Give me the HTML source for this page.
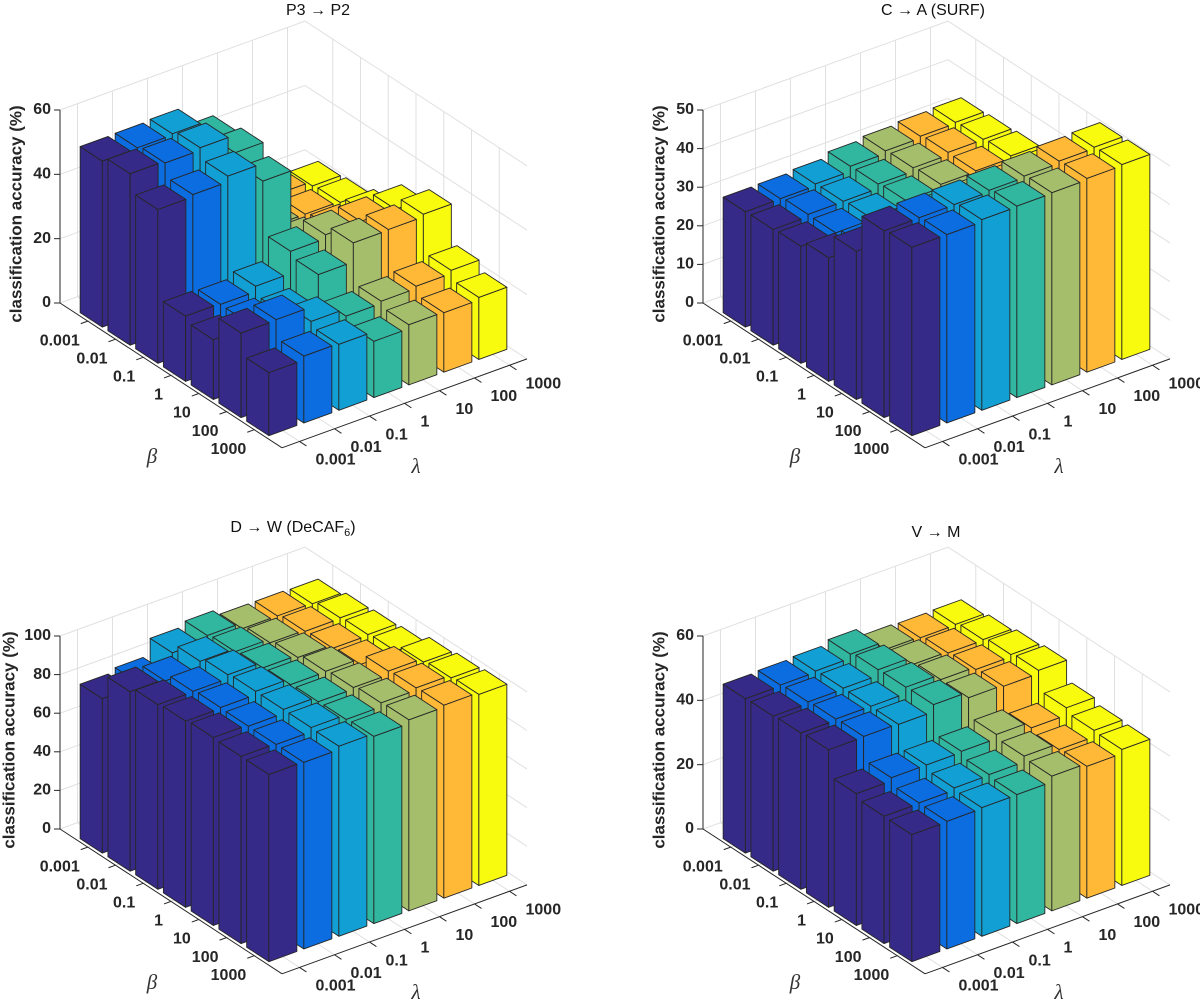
<!DOCTYPE html>
<html>
<head>
<meta charset="utf-8">
<style>
  html, body { margin: 0; padding: 0; background: #ffffff; }
  svg { display: block; font-family: "Liberation Sans", Arial, sans-serif; }
</style>
</head>
<body>
<svg id="chart" width="1200" height="1002" viewBox="0 0 1200 1002" xmlns="http://www.w3.org/2000/svg">
  <rect x="0" y="0" width="1200" height="1002" fill="#ffffff"></rect>
</svg>
<script>
// ---- data ----
const betaLabels = ['0.001', '0.01', '0.1', '1', '10', '100', '1000'];
const lambdaLabels = ['0.001', '0.01', '0.1', '1', '10', '100', '1000'];
const barColors = ['#352a87', '#0b6de0', '#12a0d4', '#31b7a0', '#a5be6b', '#ffb937', '#f9fb0e'];

// rows: beta (0.001 .. 1000), columns: lambda (0.001 .. 1000)
const p3p2Acc = [
  [51.6, 51.8, 52.2, 46.2, 20.0, 21.6, 20.2],
  [53.3, 52.7, 53.5, 48.0, 21.0, 21.0, 20.7],
  [47.8, 48.5, 50.3, 44.8, 22.0, 22.0, 22.7],
  [20.3, 20.0, 21.7, 28.6, 29.8, 30.0, 29.8],
  [18.6, 19.9, 19.0, 27.0, 32.9, 33.1, 33.9],
  [26.3, 26.5, 22.0, 19.7, 20.4, 21.1, 22.1],
  [19.6, 20.8, 20.5, 17.5, 18.7, 18.5, 19.3]
];
const caSurfAcc = [
  [29.9, 30.0, 30.5, 31.8, 32.5, 33.0, 33.3],
  [30.0, 30.6, 30.7, 31.9, 32.8, 33.5, 33.6],
  [30.3, 30.5, 31.1, 32.3, 33.2, 33.4, 34.0],
  [32.0, 32.0, 32.5, 33.0, 33.5, 34.0, 34.5],
  [38.4, 38.5, 39.0, 39.5, 40.0, 40.5, 41.0],
  [48.4, 48.5, 48.6, 49.0, 49.4, 50.0, 50.3],
  [48.8, 48.8, 49.4, 49.6, 49.8, 50.2, 50.5]
];
const dwDecafAcc = [
  [80.0, 82.0, 90.6, 93.0, 90.0, 90.0, 89.7],
  [93.0, 92.0, 95.6, 94.0, 92.0, 91.4, 91.8],
  [95.7, 96.0, 98.0, 95.0, 93.8, 92.0, 92.5],
  [96.5, 97.0, 98.8, 95.7, 96.0, 93.0, 93.3],
  [97.4, 96.7, 98.8, 96.2, 97.0, 98.9, 97.0],
  [97.0, 96.6, 98.8, 96.4, 98.4, 99.6, 98.2],
  [97.0, 96.7, 98.5, 97.0, 99.0, 100.0, 99.0]
];
const vmAcc = [
  [48.0, 48.3, 48.7, 50.0, 47.5, 47.2, 47.4],
  [48.2, 48.7, 49.0, 50.8, 48.5, 48.1, 48.3],
  [48.6, 49.0, 49.0, 51.0, 49.4, 48.6, 49.3],
  [49.0, 49.2, 49.0, 51.2, 49.4, 49.0, 50.0],
  [41.0, 42.0, 42.0, 42.3, 43.6, 41.7, 44.0],
  [39.6, 39.8, 40.5, 40.7, 42.5, 40.6, 42.6],
  [39.5, 39.7, 40.0, 40.1, 41.9, 41.0, 42.3]
];
const p3p2Ticks = [0, 20, 40, 60];
const caSurfTicks = [0, 10, 20, 30, 40, 50];
const dwDecafTicks = [0, 20, 40, 60, 80, 100];
const vmTicks = [0, 20, 40, 60];

// ---- layout ----
const NS = 'http://www.w3.org/2000/svg';
const svg = document.getElementById('chart');
const BU = [27.75, 18.1];
const LU = [35, -12.7];
const ZH = 193;

const panels = [
  { key: 'p3-p2', title: 'P3 \u2192 P2', values: p3p2Acc, ticks: p3p2Ticks, ox: 60, oy: 303, tx: 258, ty: 11, ylx: -43 },
  { key: 'c-a-surf', title: 'C \u2192 A (SURF)', values: caSurfAcc, ticks: caSurfTicks, ox: 703, oy: 303, tx: 230, ty: 11, ylx: -43 },
  { key: 'd-w-decaf', title: 'D \u2192 W (DeCAF', sub: '6', values: dwDecafAcc, ticks: dwDecafTicks, ox: 60, oy: 829, tx: 233, ty: 528, ylx: -50 },
  { key: 'v-m', title: 'V \u2192 M', values: vmAcc, ticks: vmTicks, ox: 703, oy: 829, tx: 233, ty: 533, ylx: -43 }
];

function proj(p, bc, lc, z) {
  const zmax = p.ticks[p.ticks.length - 1];
  return [p.ox + bc * BU[0] + (lc - 0.5) * LU[0],
          p.oy + bc * BU[1] + (lc - 0.5) * LU[1] - z * ZH / zmax];
}
function pts(p, list) {
  return list.map(function (c) { const q = proj(p, c[0], c[1], c[2]); return q[0].toFixed(2) + ',' + q[1].toFixed(2); }).join(' ');
}
function line(parent, a, b, stroke, w) {
  const el = document.createElementNS(NS, 'line');
  el.setAttribute('x1', a[0].toFixed(2)); el.setAttribute('y1', a[1].toFixed(2));
  el.setAttribute('x2', b[0].toFixed(2)); el.setAttribute('y2', b[1].toFixed(2));
  el.setAttribute('stroke', stroke); el.setAttribute('stroke-width', w);
  parent.appendChild(el);
  return el;
}
function text(parent, x, y, str, attrs) {
  const el = document.createElementNS(NS, 'text');
  el.setAttribute('x', x.toFixed(2)); el.setAttribute('y', y.toFixed(2));
  for (const k in attrs) el.setAttribute(k, attrs[k]);
  el.textContent = str;
  parent.appendChild(el);
  return el;
}

panels.forEach(function (p) {
  const zmax = p.ticks[p.ticks.length - 1];
  const g = document.createElementNS(NS, 'g');
  
  
  svg.appendChild(g);

  const grid = document.createElementNS(NS, 'g');
  
  
  g.appendChild(grid);
  const GC = '#e0e0e0';
  p.ticks.forEach(function (t) {
    let el = line(grid, proj(p, 0, 0.5, t), proj(p, 0, 7.5, t), GC, 1);
    
    
    el = line(grid, proj(p, 0, 7.5, t), proj(p, 8, 7.5, t), GC, 1);
    
    
  });
  for (let k = 1; k <= 7; k++) {
    let el = line(grid, proj(p, 0, k, 0), proj(p, 0, k, zmax), GC, 1);
    
    
    el = line(grid, proj(p, k, 7.5, 0), proj(p, k, 7.5, zmax), GC, 1);
    
    
    el = line(grid, proj(p, k, 0.5, 0), proj(p, k, 7.5, 0), GC, 1);
    
    
    el = line(grid, proj(p, 0, k, 0), proj(p, 8, k, 0), GC, 1);
    
    
  }

  const AC = '#262626';
  let ax = line(g, proj(p, 0, 0.5, 0), proj(p, 0, 0.5, zmax), AC, 1);
  
  
  ax = line(g, proj(p, 0, 0.5, 0), proj(p, 8, 0.5, 0), AC, 1);
  
  
  ax = line(g, proj(p, 8, 0.5, 0), proj(p, 8, 7.5, 0), AC, 1);
  
  

  p.ticks.forEach(function (t) {
    const q = proj(p, 0, 0.5, t);
    const tk = line(g, q, [q[0] - 6, q[1]], AC, 1);
    
    
    const lb = text(g, q[0] - 9, q[1], String(t), { 'text-anchor': 'end', 'dominant-baseline': 'middle', 'font-size': '16', 'font-weight': 'bold', 'fill': '#262626' });
    
    
  });
  betaLabels.forEach(function (s, i) {
    const q = proj(p, i + 1, 0.5, 0);
    const q2 = proj(p, i + 1, 0.3, 0);
    const tk = line(g, q, q2, AC, 1);
    
    
    const lb = text(g, q[0] - 8, q[1] + 20, s, { 'text-anchor': 'end', 'dominant-baseline': 'middle', 'font-size': '16', 'font-weight': 'bold', 'fill': '#262626' });
    
    
  });
  lambdaLabels.forEach(function (s, j) {
    const q = proj(p, 8, j + 1, 0);
    const q2 = proj(p, 8.25, j + 1, 0);
    const tk = line(g, q, q2, AC, 1);
    
    
    const lb = text(g, q[0] + 16, q[1] + 19, s, { 'text-anchor': 'start', 'dominant-baseline': 'middle', 'font-size': '16', 'font-weight': 'bold', 'fill': '#262626' });
    
    
  });

  const order = [];
  for (let i = 0; i < 7; i++) for (let j = 0; j < 7; j++) order.push([i, j]);
  order.sort(function (a, b) { return (a[0] - a[1]) - (b[0] - b[1]) || a[0] - b[0]; });
  const bars = document.createElementNS(NS, 'g');
  
  
  g.appendChild(bars);
  order.forEach(function (ij) {
    const i = ij[0], j = ij[1];
    const b = i + 1, l = j + 1, h = p.values[i][j];
    const col = barColors[j];
    const bg = document.createElementNS(NS, 'g');
    
    
    bg.setAttribute('fill', col);
    bg.setAttribute('stroke', '#262626');
    bg.setAttribute('stroke-width', '0.9');
    bg.setAttribute('stroke-linejoin', 'round');
    const faces = [
      [[b - .4, l - .4, 0], [b + .4, l - .4, 0], [b + .4, l - .4, h], [b - .4, l - .4, h]],
      [[b + .4, l - .4, 0], [b + .4, l + .4, 0], [b + .4, l + .4, h], [b + .4, l - .4, h]],
      [[b - .4, l - .4, h], [b + .4, l - .4, h], [b + .4, l + .4, h], [b - .4, l + .4, h]]
    ];
    const fnames = ['bar-side-face', 'bar-front-face', 'bar-top-face'];
    faces.forEach(function (f, k) {
      const poly = document.createElementNS(NS, 'polygon');
      poly.setAttribute('points', pts(p, f));
      
      
      bg.appendChild(poly);
    });
    bars.appendChild(bg);
  });

  const tt = text(g, p.ox + p.tx, p.ty, p.title, { 'text-anchor': 'middle', 'dominant-baseline': 'middle', 'font-size': '16', 'fill': '#111' });
  if (p.sub) {
    const ts = document.createElementNS(NS, 'tspan');
    ts.setAttribute('dy', '5'); ts.setAttribute('font-size', '11');
    ts.textContent = p.sub;
    tt.appendChild(ts);
    const tc = document.createElementNS(NS, 'tspan');
    tc.setAttribute('dy', '-5');
    tc.textContent = ')';
    tt.appendChild(tc);
  }
  
  

  const yl = text(g, 0, 0, 'classification accuracy (%)', { 'text-anchor': 'middle', 'dominant-baseline': 'middle', 'font-size': '17', 'font-weight': 'bold', 'fill': '#262626', 'transform': 'translate(' + (p.ox + p.ylx) + ',' + (p.oy - 89) + ') rotate(-90)' });
  
  

  const bl = text(g, p.ox + 92, p.oy + 155, '\u03b2', { 'text-anchor': 'middle', 'dominant-baseline': 'middle', 'font-size': '21', 'font-style': 'italic', 'font-family': '"Liberation Serif", serif', 'fill': '#333' });
  
  
  const ll = text(g, p.ox + 356, p.oy + 165, '\u03bb', { 'text-anchor': 'middle', 'dominant-baseline': 'middle', 'font-size': '21', 'font-style': 'italic', 'font-family': '"Liberation Serif", serif', 'fill': '#333' });
  
  
});
</script>
</body>
</html>
